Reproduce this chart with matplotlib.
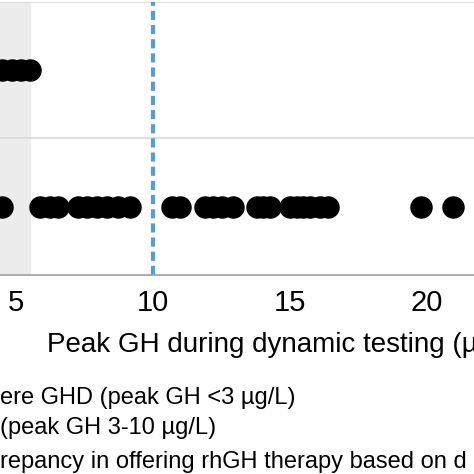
import matplotlib.pyplot as plt

# peak GH values per group (µg/L)
upper_vals = [4.5, 4.85, 5.2, 5.5]
lower_vals = [4.48, 5.88, 6.24, 6.53, 7.26, 7.59, 7.96, 8.32, 8.72, 9.16,
              10.69, 10.99, 11.90, 12.19, 12.52, 12.92, 13.80, 14.01, 14.27,
              15.0, 15.26, 15.47, 15.73, 16.09, 16.39, 19.78, 20.95]
ticks = [5, 10, 15, 20]
caption = ["ere GHD (peak GH <3 µg/L)",
           "(peak GH 3-10 µg/L)",
           "repancy in offering rhGH therapy based on d"]

plt.rcParams['font.family'] = ['Liberation Sans', 'DejaVu Sans']
fig = plt.figure(figsize=(4.74, 4.74), dpi=100)
ax = fig.add_axes([0, 0.42, 1, 0.576])

ax.axvspan(4.0, 5.52, color='#ececec', zorder=0)
for y in [0.5, 1.5]:
    ax.axhline(y, color='#d9d9d9', lw=1.2, zorder=1)
ax.axvline(10, color='#5b9bd5', lw=3, ls=(0, (2.2, 1.2)), zorder=2)

ax.scatter(upper_vals, [1] * len(upper_vals), s=230, color='black', zorder=3)
ax.scatter(lower_vals, [0] * len(lower_vals), s=230, color='black', zorder=3)

ax.set_xlim(4.42, 21.72)
ax.set_ylim(-0.5, 1.5)
ax.set_yticks([])
ax.set_xticks(ticks)
ax.tick_params(axis='x', length=0, labelsize=21, pad=10)
for s in ['top', 'left', 'right']:
    ax.spines[s].set_visible(False)
ax.spines['bottom'].set_color('#a0a0a0')
ax.spines['bottom'].set_linewidth(1.2)
ax.set_xlabel("Peak GH during dynamic testing (µg/L)", fontsize=20, loc='left')
ax.xaxis.set_label_coords(0.1, -0.21)

fig.text(0.0, 1 - 398 / 474, caption[0], fontsize=17, va='center')
fig.text(0.0, 1 - 428 / 474, caption[1], fontsize=17, va='center')
fig.text(0.0, 1 - 462 / 474, caption[2], fontsize=17, va='center')

fig.savefig("out.png", dpi=100)
